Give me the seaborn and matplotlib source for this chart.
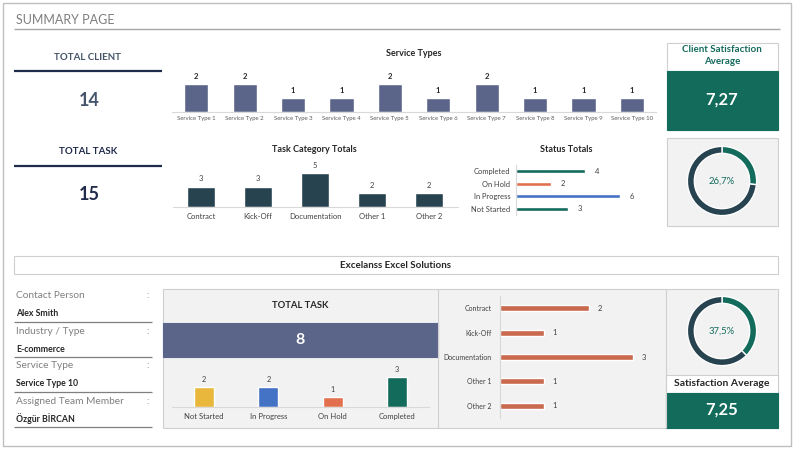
import matplotlib
matplotlib.use("Agg")
import matplotlib.pyplot as plt
import matplotlib.patches as mpatches
import seaborn as sns
import pandas as pd

# ---------------- data ----------------
service_types = [f"Service Type {i}" for i in range(1, 11)]
service_counts = [2, 2, 1, 1, 2, 1, 2, 1, 1, 1]

task_categories = ["Contract", "Kick-Off", "Documentation", "Other 1", "Other 2"]
task_category_totals = [3, 3, 5, 2, 2]

status_labels = ["Completed", "On Hold", "In Progress", "Not Started"]
status_totals = [4, 2, 6, 3]

client_status_labels = ["Not Started", "In Progress", "On Hold", "Completed"]
client_status_counts = [2, 2, 1, 3]

client_categories = ["Contract", "Kick-Off", "Documentation", "Other 1", "Other 2"]
client_category_counts = [2, 1, 3, 1, 1]

total_client = 14
total_task = 15
client_total_task = 8
sat_avg_all = "7,27"
sat_pct_all = 26.7
sat_avg_client = "7,25"
sat_pct_client = 37.5

info_labels = ["Contact Person", "Industry / Type", "Service Type", "Assigned Team Member"]
info_values = ["Alex Smith", "E-commerce", "Service Type 10", "Özgür BİRCAN"]

# ---------------- style ----------------
sns.set_theme(style="white")
plt.rcParams["font.family"] = ["Lato", "DejaVu Sans"]

SLATE = "#5b6589"
DARK = "#27434f"
TEAL = "#136b5c"
BLUE = "#4472c4"
ORANGE = "#e2704e"
YELLOW = "#e9b73c"
TERRA = "#c9694d"
GRAYBG = "#f2f2f2"
BORDER = "#cfcfcf"
TXT = "#404040"

W, H = 794, 449
fig = plt.figure(figsize=(W / 100, H / 100), dpi=100)
bg = fig.add_axes([0, 0, 1, 1])
bg.set_xlim(0, W)
bg.set_ylim(H, 0)
bg.axis("off")
bg.set_zorder(0)


def pax(x, y, w, h):
    a = fig.add_axes([x / W, 1 - (y + h) / H, w / W, h / H])
    a.set_facecolor("none")
    a.set_zorder(2)
    return a


def rect(x, y, w, h, fc="none", ec="none", lw=0.8, z=1):
    bg.add_patch(mpatches.Rectangle((x, y), w, h, facecolor=fc, edgecolor=ec, lw=lw, zorder=z))


def line(x0, x1, y0, y1, c, lw):
    bg.plot([x0, x1], [y0, y1], color=c, lw=lw, solid_capstyle="butt", zorder=3)


def txt(x, y, s, size, color=TXT, weight="normal", ha="center", **kw):
    bg.text(x, y, s, fontsize=size, color=color, fontweight=weight, ha=ha, va="center", zorder=4, **kw)


def donut(x, y, size, pct):
    a = pax(x, y, size, size)
    a.pie([pct, 100 - pct], colors=[TEAL, DARK], startangle=90, counterclock=False,
          radius=1.0, wedgeprops=dict(width=0.2, edgecolor="white", linewidth=1.0))
    a.set_xlim(-1.04, 1.04)
    a.set_ylim(-1.04, 1.04)
    a.set_aspect("equal")
    a.axis("off")
    return a


# outer frame
rect(2.5, 2.5, 788, 443, ec="#bfbfbf", lw=1.0)
txt(16, 20, "SUMMARY PAGE", 9, color="#7f7f7f", ha="left")
line(14, 780, 28.5, 28.5, "#a6a6a6", 1.0)

# KPI left
txt(88, 57, "TOTAL CLIENT", 7, color="#44546a", weight="bold")
line(14, 162, 70.5, 70.5, "#1f2b4a", 1.6)
txt(89, 100, str(total_client), 13, color="#44546a", weight="bold")
txt(88, 152, "TOTAL TASK", 7, color="#1f2b4a", weight="bold")
line(14, 162, 165.5, 165.5, "#1f2b4a", 1.6)
txt(89, 195, str(total_task), 13, color="#1f2b4a", weight="bold")

# ---------------- Service Types ----------------
txt(414, 54, "Service Types", 6.5, color="#262626", weight="bold")
ax = pax(172, 70, 484, 42)
df = pd.DataFrame({"cat": service_types, "val": service_counts})
sns.barplot(data=df, x="cat", y="val", color=SLATE, width=0.5, saturation=1, ax=ax)
ax.set_ylim(0, 3.0)
ax.bar_label(ax.containers[0], fontsize=5.5, color="#262626", fontweight="bold", padding=3)
ax.set_xlabel(""); ax.set_ylabel(""); ax.set_yticks([])
ax.tick_params(axis="x", labelsize=4.3, labelcolor="#595959", length=0, pad=3)
for s in ["top", "right", "left"]:
    ax.spines[s].set_visible(False)
ax.spines["bottom"].set_color("#d9d9d9"); ax.spines["bottom"].set_linewidth(0.8)

# ---------------- Task Category Totals ----------------
txt(314, 150, "Task Category Totals", 6.5, color="#262626", weight="bold")
ax = pax(172.5, 160, 285, 47)
df = pd.DataFrame({"cat": task_categories, "val": task_category_totals})
sns.barplot(data=df, x="cat", y="val", color=DARK, width=0.49, saturation=1, ax=ax)
ax.set_ylim(0, 47 / 6.8)
ax.bar_label(ax.containers[0], fontsize=5.5, color=TXT, padding=3)
ax.set_xlabel(""); ax.set_ylabel(""); ax.set_yticks([])
ax.tick_params(axis="x", labelsize=5.5, labelcolor=TXT, length=0, pad=4)
for s in ["top", "right", "left"]:
    ax.spines[s].set_visible(False)
ax.spines["bottom"].set_color("#d9d9d9"); ax.spines["bottom"].set_linewidth(0.8)

# ---------------- Status Totals ----------------
txt(566, 150, "Status Totals", 6.5, color="#262626", weight="bold")
ax = pax(516, 165, 138, 50)
df = pd.DataFrame({"cat": status_labels, "val": status_totals})
sns.barplot(data=df, y="cat", x="val", hue="cat", palette=[TEAL, ORANGE, BLUE, TEAL],
            width=0.32, saturation=1, legend=False, ax=ax, orient="h")
ax.set_xlim(0, 8)
for c in ax.containers:
    ax.bar_label(c, fontsize=5.5, color=TXT, padding=7)
ax.set_xlabel(""); ax.set_ylabel(""); ax.set_xticks([])
ax.tick_params(axis="y", labelsize=5.4, labelcolor=TXT, length=0, pad=4)
for s in ["top", "right", "bottom"]:
    ax.spines[s].set_visible(False)
ax.spines["left"].set_color("#d9d9d9"); ax.spines["left"].set_linewidth(0.8)

# ---------------- Client satisfaction (top right) ----------------
rect(667, 43, 111, 87, fc="white", ec=BORDER)
txt(722, 50, "Client Satisfaction", 7, color=TEAL, weight="bold")
txt(722, 62, "Average", 7, color=TEAL, weight="bold")
rect(667, 71, 111, 59, fc=TEAL, ec=TEAL)
txt(722, 100, sat_avg_all, 12, color="white", weight="bold")

rect(667, 138, 111, 88, fc=GRAYBG, ec=BORDER)
donut(686, 145, 72, sat_pct_all)
txt(722, 181, f"{sat_pct_all:.1f}%".replace(".", ","), 6.8, color=TEAL)

# ---------------- Company bar ----------------
rect(14, 256, 764, 18, fc="white", ec=BORDER)
txt(396, 265.5, "Excelanss Excel Solutions", 7, color="#262626", weight="bold")

# ---------------- info block ----------------
ys = [296, 331, 366, 401]
for lab, val, y in zip(info_labels, info_values, ys):
    txt(16, y, lab, 7.3, color="#7f7f7f", ha="left")
    txt(148, y, ":", 7, color="#7f7f7f")
    txt(16, y + 18, val, 6.3, color="#262626", weight="bold", ha="left")
    line(14, 152, y + 25.5, y + 25.5, "#7f7f7f", 0.9)

# ---------------- Bottom panels ----------------
rect(163, 289, 615, 139, fc=GRAYBG, ec=BORDER)
line(438, 438, 289, 428, BORDER, 0.8)
line(666, 666, 289, 428, BORDER, 0.8)

txt(300, 305, "TOTAL TASK", 6.8, color="#262626", weight="bold")
rect(163, 323, 275, 34, fc=SLATE, ec=SLATE)
txt(300, 340, str(client_total_task), 11.5, color="white", weight="bold")

ax = pax(172, 365, 257, 42)
df = pd.DataFrame({"cat": client_status_labels, "val": client_status_counts})
sns.barplot(data=df, x="cat", y="val", hue="cat", palette=[YELLOW, BLUE, ORANGE, TEAL],
            width=0.31, saturation=1, legend=False, ax=ax)
ax.set_ylim(0, 4.2)
for c in ax.containers:
    ax.bar_label(c, fontsize=5.3, color=TXT, padding=3)
ax.set_xlabel(""); ax.set_ylabel(""); ax.set_yticks([])
ax.tick_params(axis="x", labelsize=5.5, labelcolor=TXT, length=0, pad=4)
for s in ["top", "right", "left"]:
    ax.spines[s].set_visible(False)
ax.spines["bottom"].set_color("#d9d9d9"); ax.spines["bottom"].set_linewidth(0.8)

ax = pax(500, 296, 160, 122)
df = pd.DataFrame({"cat": client_categories, "val": client_category_counts})
sns.barplot(data=df, y="cat", x="val", color=TERRA, width=0.25, saturation=1, ax=ax, orient="h")
ax.set_xlim(0, 3.6)
ax.bar_label(ax.containers[0], fontsize=5.5, color=TXT, padding=6)
ax.set_xlabel(""); ax.set_ylabel(""); ax.set_xticks([])
ax.tick_params(axis="y", labelsize=5.0, labelcolor=TXT, length=0, pad=6)
for s in ["top", "right", "bottom"]:
    ax.spines[s].set_visible(False)
ax.spines["left"].set_color("#d9d9d9"); ax.spines["left"].set_linewidth(0.8)

# right bottom
donut(686, 295, 72, sat_pct_client)
txt(722, 331, f"{sat_pct_client:.1f}%".replace(".", ","), 6.8, color=TEAL)
rect(666, 375, 112, 18, fc="white", ec=BORDER)
txt(722, 384, "Satisfaction Average", 7.5, color="#262626", weight="bold")
rect(666, 393, 112, 35, fc=TEAL, ec=TEAL)
txt(722, 410, sat_avg_client, 12, color="white", weight="bold")

fig.savefig("out.png", dpi=100)
